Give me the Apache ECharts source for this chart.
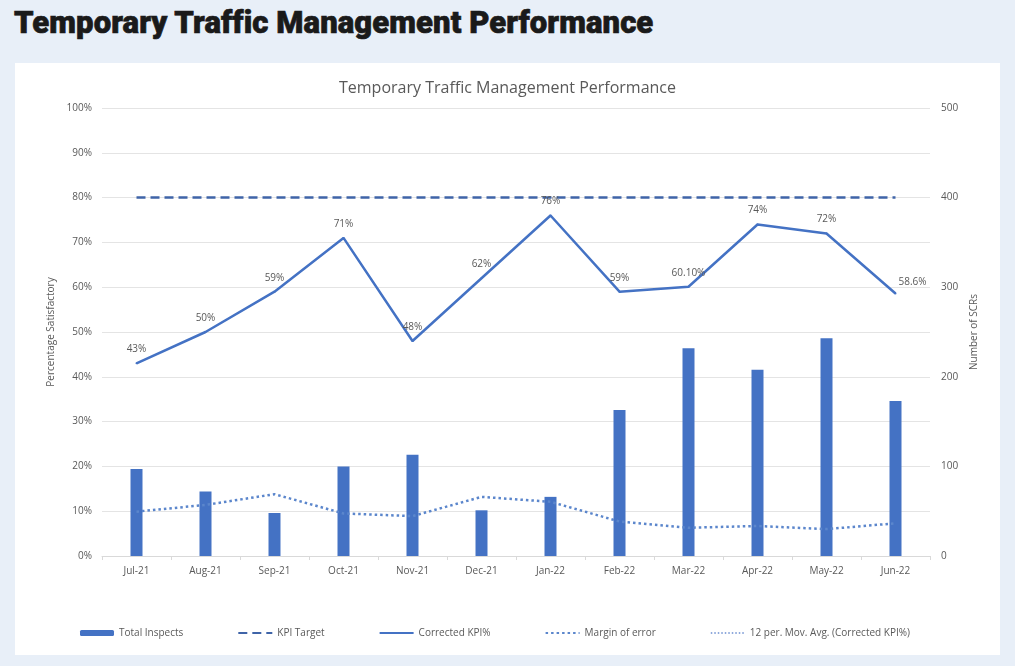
<!DOCTYPE html>
<html>
<head>
<meta charset="utf-8">
<script src="https://cdn.jsdelivr.net/npm/echarts@6/dist/echarts.min.js"></script>
<style>
  html, body { margin: 0; padding: 0; }
  body { width: 1015px; height: 666px; background: #e8eff8; position: relative; overflow: hidden; }
  #pageTitle {
    position: absolute; left: 14px; top: 4px;
    font-family: Roboto, sans-serif; font-weight: 900; font-size: 31px;
    letter-spacing: 0.1px; color: #1a1a1a; white-space: nowrap;
    -webkit-text-stroke: 0.7px #1a1a1a;
  }
  #chart { position: absolute; left: 15px; top: 63px; width: 985px; height: 592px; background: #fff; }
</style>
</head>
<body>
<div id="pageTitle">Temporary Traffic Management Performance</div>
<div id="chart"></div>
<script>
const months = ['Jul-21', 'Aug-21', 'Sep-21', 'Oct-21', 'Nov-21', 'Dec-21', 'Jan-22', 'Feb-22', 'Mar-22', 'Apr-22', 'May-22', 'Jun-22'];
const totalInspects = [97, 72, 48, 100, 113, 51, 66, 163, 232, 208, 243, 173];
const kpiTarget = [80, 80, 80, 80, 80, 80, 80, 80, 80, 80, 80, 80];
const correctedKpi = [43, 50, 59, 71, 48, 62, 76, 59, 60.1, 74, 72, 58.6];
const kpiLabels = ['43%', '50%', '59%', '71%', '48%', '62%', '76%', '59%', '60.10%', '74%', '72%', '58.6%'];
const marginOfError = [9.9, 11.4, 13.8, 9.5, 8.9, 13.2, 12.1, 7.7, 6.3, 6.7, 6.0, 7.3];
const movingAvg = [];
const pctTicks = [0, 10, 20, 30, 40, 50, 60, 70, 80, 90, 100];

const chart = echarts.init(document.getElementById('chart'));
const font = '"Open Sans", sans-serif';
const grey = '#595959';
const blue = '#4472c4';

const kpiData = correctedKpi.map((v, i) => {
    const item = { value: v, label: { formatter: kpiLabels[i] } };
    if (i === correctedKpi.length - 1) item.label.offset = [17, 3];
    return item;
});

// line legend entries: keep only the line, hide the symbol in the middle
const noSymbol = { opacity: 0 };

chart.setOption({
    textStyle: { fontFamily: font },
    animation: false,
    title: {
        text: 'Temporary Traffic Management Performance',
        left: 'center',
        top: 12,
        textStyle: { fontFamily: font, fontSize: 16, fontWeight: 'normal', color: grey }
    },
    grid: { left: 87, right: 70, top: 45, bottom: 99 },
    legend: {
        bottom: 12,
        left: 60,
        itemGap: 54,
        itemWidth: 34,
        itemHeight: 6,
        textStyle: { fontFamily: font, fontSize: 10, color: grey },
        data: [
            { name: 'Total Inspects' },
            { name: 'KPI Target', itemStyle: noSymbol },
            { name: 'Corrected KPI%', itemStyle: noSymbol },
            { name: 'Margin of error', itemStyle: noSymbol },
            { name: '12 per. Mov. Avg. (Corrected KPI%)', itemStyle: noSymbol }
        ]
    },
    xAxis: {
        type: 'category',
        data: months,
        axisLine: { lineStyle: { color: '#d9d9d9' } },
        axisTick: { show: true, length: 4, lineStyle: { color: '#d9d9d9' } },
        axisLabel: { fontSize: 10, color: grey, margin: 10 }
    },
    yAxis: [
        {
            type: 'value',
            min: 0, max: 100, interval: 10,
            name: 'Percentage Satisfactory',
            nameLocation: 'middle',
            nameRotate: 90,
            nameGap: 44,
            nameTextStyle: { fontSize: 10, color: grey },
            axisLabel: {
                fontSize: 10, color: grey, margin: 10,
                formatter: v => pctTicks.includes(v) ? v + '%' : ''
            },
            splitLine: { lineStyle: { color: '#e4e4e4' } }
        },
        {
            type: 'value',
            min: 0, max: 500, interval: 100,
            name: 'Number of SCRs',
            nameLocation: 'middle',
            nameRotate: 90,
            nameGap: 38,
            nameTextStyle: { fontSize: 10, color: grey },
            axisLabel: { fontSize: 10, color: grey, margin: 11 },
            splitLine: { show: false }
        }
    ],
    series: [
        {
            name: 'Total Inspects',
            type: 'bar',
            yAxisIndex: 1,
            barWidth: 12,
            itemStyle: { color: blue },
            data: totalInspects
        },
        {
            name: 'KPI Target',
            type: 'line',
            symbol: 'none',
            itemStyle: { color: '#3f64a8' },
            lineStyle: { color: '#3f64a8', width: 2.5, type: [9, 5] },
            data: kpiTarget,
            z: 4
        },
        {
            name: 'Corrected KPI%',
            type: 'line',
            symbol: 'circle',
            symbolSize: 2,
            itemStyle: { color: blue },
            lineStyle: { color: blue, width: 2.5 },
            label: { show: true, position: 'top', distance: 8, fontSize: 10, color: grey },
            data: kpiData,
            z: 5
        },
        {
            name: 'Margin of error',
            type: 'line',
            symbol: 'none',
            itemStyle: { color: '#5b86cc' },
            lineStyle: { color: '#5b86cc', width: 2.5, type: [2.5, 3] },
            data: marginOfError,
            z: 4
        },
        {
            name: '12 per. Mov. Avg. (Corrected KPI%)',
            type: 'line',
            symbol: 'none',
            itemStyle: { color: '#8fa9dc' },
            lineStyle: { color: '#8fa9dc', width: 2, type: [1.5, 2] },
            data: movingAvg
        }
    ]
});
</script>
</body>
</html>
